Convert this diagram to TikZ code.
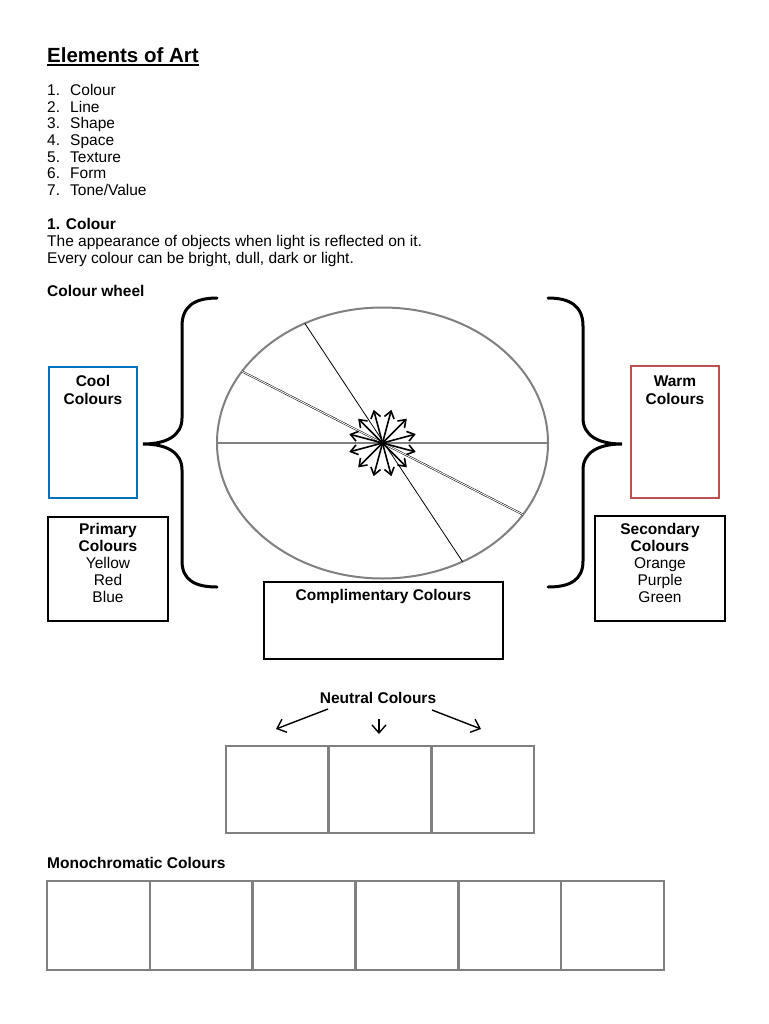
\documentclass[tikz,border=0pt]{standalone}
\usepackage{fontspec}
\setmainfont{Liberation Sans}
\usetikzlibrary{arrows.meta,shapes.geometric}
\definecolor{coolblue}{RGB}{0,112,192}
\definecolor{warmred}{RGB}{192,80,77}
\definecolor{boxgray}{RGB}{128,128,128}
\begin{document}
\begin{tikzpicture}[x=1pt,y=-1pt,
  txt/.style={font=\fontsize{15.5}{17}\selectfont, inner sep=0pt, anchor=base west},
  btxtl/.style={font=\fontsize{15.5}{17}\selectfont\bfseries, inner sep=0pt, anchor=base west},
  ctxt/.style={font=\fontsize{15.5}{17}\selectfont, inner sep=0pt, anchor=base},
  btxt/.style={font=\fontsize{15.5}{17}\selectfont\bfseries, inner sep=0pt, anchor=base},
  blackbox/.style={draw=black, line width=2.6pt, rectangle, inner sep=0pt, outer sep=0pt},
  coolbox/.style={draw=coolblue, line width=2.2pt, rectangle, inner sep=0pt, outer sep=0pt},
  warmbox/.style={draw=warmred, line width=2.2pt, rectangle, inner sep=0pt, outer sep=0pt},
  cell/.style={draw=boxgray, line width=2.6pt, rectangle, inner sep=0pt, outer sep=0pt},
  brace/.style={line width=3pt, line cap=round},
  starray/.style={line width=1.6pt},
  chevron/.style={line width=1.6pt, line join=miter},
  pointer/.style={line width=1.4pt, -{Straight Barb[length=8pt,width=14pt,line width=1.4pt]}}
]
\useasboundingbox[fill=white] (0,0) rectangle (768,1024);

% Title
\node[font=\fontsize{20.5}{24}\selectfont\bfseries, inner sep=0pt, anchor=base west] (title) at (47,62.5) {Elements of Art};
\draw[line width=1.3pt] ([yshift=-2.6pt]title.base west) -- ([yshift=-2.6pt]title.base east);

% List
\foreach \n/\t [count=\k from 0] in {1/Colour,2/Line,3/Shape,4/Space,5/Texture,6/Form,7/Tone\slash Value}{
  \node[txt] (num\n) at (47,95.5+16.65*\k) {\n.};
  \node[txt] (item\n) at (70,95.5+16.65*\k) {\t};
}

\node[btxtl] (sec1) at (47,229.5) {1. Colour};
\node[txt] (def1) at (47,246.5) {The appearance of objects when light is reflected on it.};
\node[txt] (def2) at (47,263.3) {Every colour can be bright, dull, dark or light.};
\node[btxtl] (wheellbl) at (47,296.5) {Colour wheel};

% Colour wheel
\node[draw=boxgray, line width=2pt, ellipse, minimum width=331pt, minimum height=271pt, inner sep=0pt, outer sep=0pt] (wheel) at (382.5,443) {};
\draw[boxgray, line width=2pt] (wheel.180) -- (wheel.0);
\draw[black, line width=0.8pt] (wheel.123.3) -- (wheel.-56.6);
\draw[black, line width=0.5pt, double=white, double distance=0.9pt] (wheel.153.2) -- (wheel.-27.4);
\foreach \a in {15,45,...,345}{
  \draw[starray] (wheel.center) -- ++(\a:33) coordinate (tip);
  \draw[chevron] (tip) ++(\a+180-36:8.5) -- (tip) -- ++(\a+180+36:8.5);
}

% Braces
\draw[brace] (217,298) .. controls (195,298) and (182,306) .. (182,326) -- (182,418)
  .. controls (182,436) and (166,444) .. (143,444)
  .. controls (166,444) and (182,452) .. (182,470) -- (182,561)
  .. controls (182,580) and (195,587) .. (217,587);
\draw[brace] (548,298) .. controls (570,298) and (583,306) .. (583,326) -- (583,418)
  .. controls (583,436) and (599,444) .. (622,444)
  .. controls (599,444) and (583,452) .. (583,470) -- (583,561)
  .. controls (583,580) and (570,587) .. (548,587);

% Cool / Primary
\node[coolbox, minimum width=88pt, minimum height=131pt] (cool) at (93,432.5) {};
\node[btxt] (coolt1) at (93,386.3) {Cool};
\node[btxt] (coolt2) at (93,404.6) {Colours};
\node[blackbox, minimum width=120pt, minimum height=104pt] (primary) at (108,569) {};
\foreach \t/\s [count=\k from 0] in {Primary/btxt,Colours/btxt,Yellow/ctxt,Red/ctxt,Blue/ctxt}
  \node[\s] (prim\k) at (108,534.5+16.9*\k) {\t};

% Warm / Secondary
\node[warmbox, minimum width=88pt, minimum height=132pt] (warm) at (675,432) {};
\node[btxt] (warmt1) at (675,386.3) {Warm};
\node[btxt] (warmt2) at (675,404.6) {Colours};
\node[blackbox, minimum width=130pt, minimum height=105pt] (secondary) at (660,568.5) {};
\foreach \t/\s [count=\k from 0] in {Secondary/btxt,Colours/btxt,Orange/ctxt,Purple/ctxt,Green/ctxt}
  \node[\s] (seco\k) at (660,534.5+16.9*\k) {\t};

% Complimentary
\node[blackbox, minimum width=239pt, minimum height=77pt] (compl) at (383.5,620.5) {};
\node[btxt] (complt) at (383.5,600.5) {Complimentary Colours};

% Neutral
\node[btxt] (neutral) at (378,703.5) {Neutral Colours};
\coordinate (nlA) at (328,709);
\coordinate (nlB) at (276,729);
\coordinate (nmA) at (379,719);
\coordinate (nmB) at (379,734);
\coordinate (nrA) at (432,710);
\coordinate (nrB) at (481,729);
\draw[pointer] (nlA) -- (nlB);
\draw[pointer] (nmA) -- (nmB);
\draw[pointer] (nrA) -- (nrB);
\foreach \i in {0,1,2}
  \node[cell, minimum width=102.7pt, minimum height=87pt] (neu\i) at (226+51.35+102.7*\i,789.5) {};

% Monochromatic
\node[btxtl] (monolbl) at (47,868.5) {Monochromatic Colours};
\foreach \i in {0,...,5}
  \node[cell, minimum width=102.8pt, minimum height=89pt] (mono\i) at (47+51.4+102.8*\i,925.5) {};
\end{tikzpicture}
\end{document}
